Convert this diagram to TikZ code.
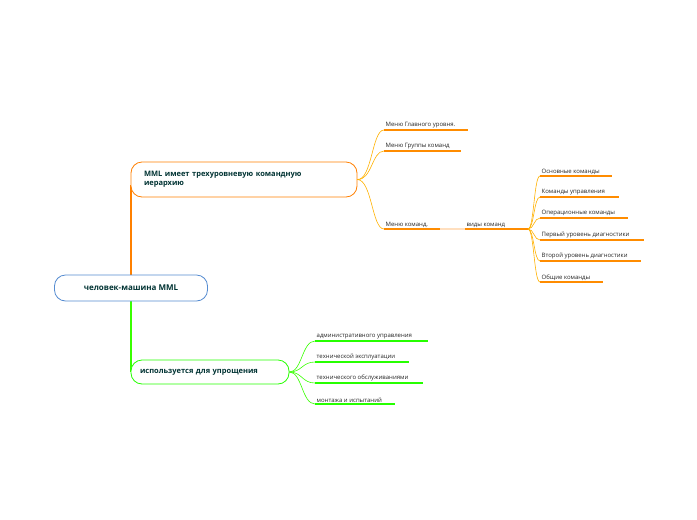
\documentclass[tikz,border=0pt]{standalone}
\usepackage{fontspec}
\setmainfont{Open Sans}
\begin{document}
\begin{tikzpicture}[x=1pt,y=-1pt,
  lbl/.style={anchor=south west,inner sep=1.5pt,font=\fontsize{6}{7}\selectfont,text=black!85},
  ora/.style={draw=orange!90!yellow,line width=1.2pt},
  oral/.style={draw=orange!60!yellow,line width=0.6pt},
  grn/.style={draw=green!80!lime,line width=1.2pt},
  grnl/.style={draw=green!70!lime,line width=0.6pt},
  mainbox/.style={draw,rounded corners=11pt,line width=0.8pt,fill=white,font=\bfseries\fontsize{7.5}{9}\selectfont,text=teal!40!black,align=left}]
\useasboundingbox[fill=white] (0,0) rectangle (697,520);
% main nodes
\draw[oral,line width=1.4pt,draw=orange] (131,280) -- (131,185);
\draw[grnl,line width=1.4pt,draw=green!70!lime] (131,295) -- (131,372);
\node[mainbox,draw=cyan!50!blue!70,minimum width=153pt,minimum height=26pt,align=center,font=\bfseries\fontsize{8}{10}\selectfont] (root) at (131,288) {человек-машина MML};
\node[mainbox,draw=orange,minimum width=226pt,minimum height=35pt,text width=200pt] (top) at (244,179.5) {MML имеет трехуровневую командную\\иерархию};
\node[mainbox,draw=green!80!lime,minimum width=158pt,minimum height=24pt,text width=140pt] (bot) at (210,372) {используется для упрощения};
% top branch
\coordinate (t0) at (top.east);
\foreach \n/\y/\e/\t in {a/130/468/Меню Главного уровня.,b/151/461/Меню Группы команд,c/229/440/Меню команд.}{
  \coordinate (\n s) at (384,\y); \coordinate (\n e) at (\e,\y);
  \draw[oral] (t0) .. controls (372,180) and (372,\y) .. (\n s);
  \draw[ora] (\n s) -- (\n e);
  \node[lbl] (\n) at (\n s) {\t};
}
\coordinate (ds) at (465,229); \coordinate (de) at (528,229);
\draw[draw=orange!25,line width=1.2pt] (ce) -- (ds);
\draw[ora] (ds) -- (de);
\node[lbl] (d) at (ds) {виды команд};
\foreach \n/\y/\e/\t in {p/176/612/Основные команды,q/197/619/Команды управления,r/218/628/Операционные команды,s/240/644/Первый уровень диагностики,u/261/641/Второй уровень диагностики,v/282/603/Общие команды}{
  \coordinate (\n s) at (540,\y); \coordinate (\n e) at (\e,\y);
  \draw[oral] (de) .. controls (534,229) and (534,\y) .. (\n s);
  \draw[ora] (\n s) -- (\n e);
  \node[lbl] (\n) at (\n s) {\t};
}
% bottom branch
\foreach \n/\y/\e/\t in {g/341/428/административного управления,h/362/409/технической эксплуатации,i/383/423/технического обслуживаниями,j/404/395/монтажа и испытаний}{
  \coordinate (\n s) at (315,\y); \coordinate (\n e) at (\e,\y);
  \draw[grnl] (bot.east) .. controls (302,372) and (302,\y) .. (\n s);
  \draw[grn] (\n s) -- (\n e);
  \node[lbl] (\n) at (\n s) {\t};
}
\end{tikzpicture}
\end{document}
